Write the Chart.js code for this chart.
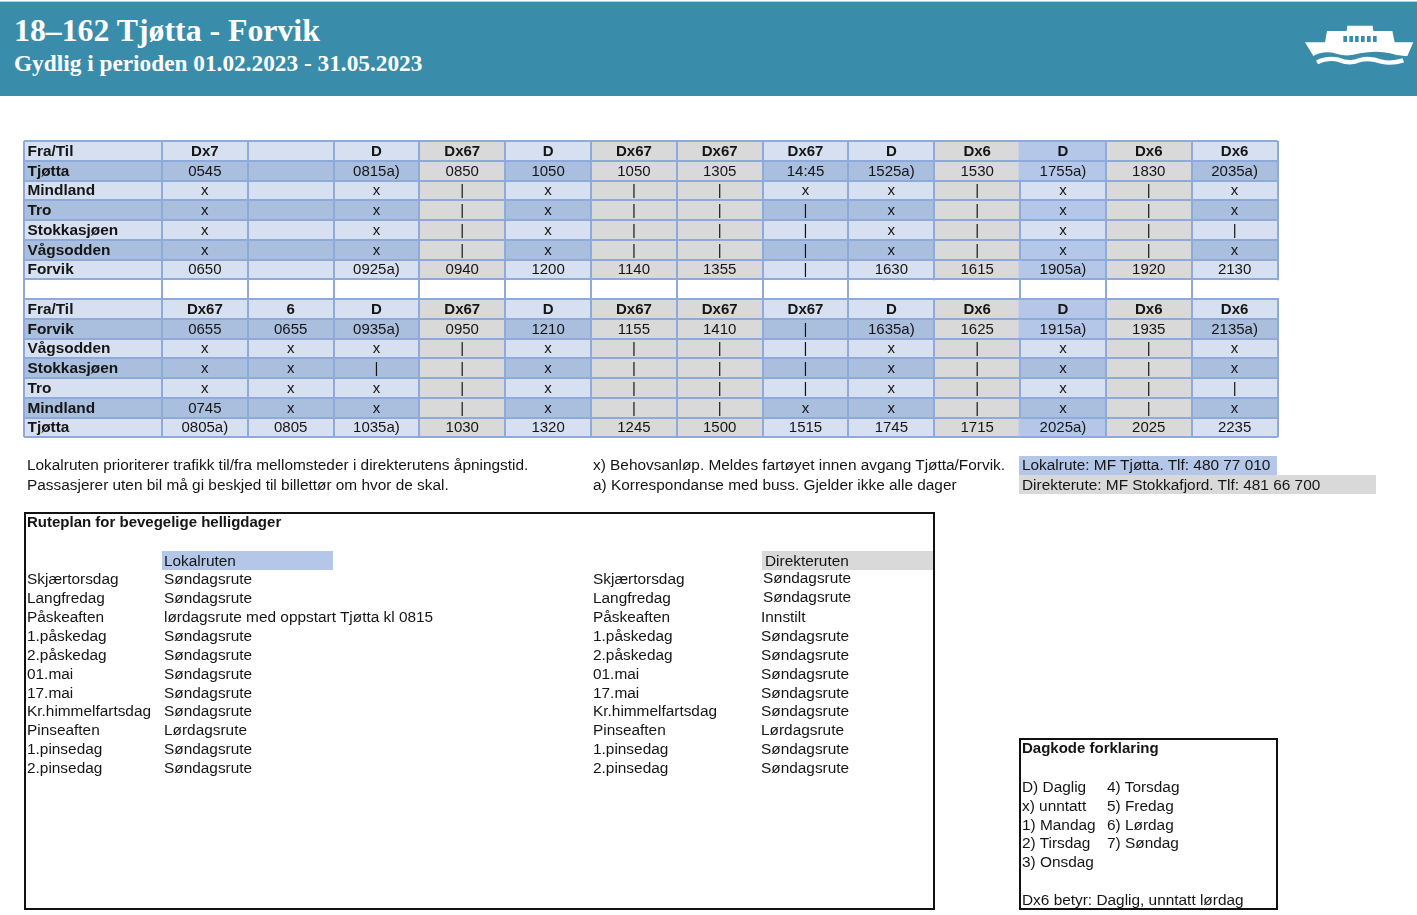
<!DOCTYPE html>
<html>
<head>
<meta charset="utf-8">
<title>18-162 Tjøtta - Forvik</title>
<script src="https://cdn.jsdelivr.net/npm/chart.js@4"></script>
<style>
  html, body { margin: 0; padding: 0; background: #fff; overflow: hidden; }
  #page { position: relative; width: 1417px; height: 915px; font-family: "Liberation Sans", Arial, sans-serif; font-size: 15.4px; color: #151515; overflow: hidden; }
  #timetable { position: absolute; left: 0; top: 0; }
  #band { position: absolute; left: 0; top: 1px; width: 1417px; height: 95px; background: #3a8cab; border-top: 1px solid #c8c8c8; box-sizing: border-box; }
  #title, #subtitle { position: absolute; left: 14px; color: #fff; font-family: "Liberation Serif", serif; font-weight: bold; white-space: nowrap; }
  #title { top: 11px; font-size: 31.8px; }
  #subtitle { top: 48px; font-size: 23.3px; }
  #ship { position: absolute; left: 1180px; top: 0; }
  .t { position: absolute; white-space: nowrap; line-height: 18px; }
  .b { font-weight: bold; font-size: 15px; }
  .bar { position: absolute; }
  .box { position: absolute; border: 2px solid #111; box-sizing: border-box; }
</style>
</head>
<body>
<div id="page">
  <canvas id="timetable" width="1417" height="915"></canvas>
  <div id="band">
    <div id="title">18–162 Tjøtta - Forvik</div>
    <div id="subtitle">Gydlig i perioden 01.02.2023 - 31.05.2023</div>
  </div>
  <svg id="ship" width="237" height="110" viewBox="0 0 711 330">
    <path fill="#fff" d="M375 127H435L441 93H500L502 77H578L580 93H637L644 127H700L682 168Q660 170 630 160Q590 150 540 160Q500 172 470 161Q430 150 400 168Z"/>
    <g fill="#3a8cab">
      <rect x="490" y="108" width="11" height="18"/><rect x="508" y="108" width="11" height="18"/>
      <rect x="525" y="108" width="11" height="18"/><rect x="543" y="108" width="11" height="18"/>
      <rect x="561" y="108" width="11" height="18"/><rect x="579" y="108" width="11" height="18"/>
    </g>
    <path fill="none" stroke="#fff" stroke-width="13" d="M411 187Q440 172 475 179Q510 194 540 180Q570 172 605 185Q635 192 670 181"/>
  </svg>
</div>
<script>
// timetable, outbound
const stopsOut = ['Fra/Til', 'Tjøtta', 'Mindland', 'Tro', 'Stokkasjøen', 'Vågsodden', 'Forvik'];
const daysOut = ['Dx7', '', 'D', 'Dx67', 'D', 'Dx67', 'Dx67', 'Dx67', 'D', 'Dx6', 'D', 'Dx6', 'Dx6'];
const tjottaOut = ['0545', '', '0815a)', '0850', '1050', '1050', '1305', '14:45', '1525a)', '1530', '1755a)', '1830', '2035a)'];
const mindlandOut = ['x', '', 'x', '|', 'x', '|', '|', 'x', 'x', '|', 'x', '|', 'x'];
const troOut = ['x', '', 'x', '|', 'x', '|', '|', '|', 'x', '|', 'x', '|', 'x'];
const stokkOut = ['x', '', 'x', '|', 'x', '|', '|', '|', 'x', '|', 'x', '|', '|'];
const vagsOut = ['x', '', 'x', '|', 'x', '|', '|', '|', 'x', '|', 'x', '|', 'x'];
const forvikOut = ['0650', '', '0925a)', '0940', '1200', '1140', '1355', '|', '1630', '1615', '1905a)', '1920', '2130'];

// timetable, return
const stopsBack = ['Fra/Til', 'Forvik', 'Vågsodden', 'Stokkasjøen', 'Tro', 'Mindland', 'Tjøtta'];
const daysBack = ['Dx67', '6', 'D', 'Dx67', 'D', 'Dx67', 'Dx67', 'Dx67', 'D', 'Dx6', 'D', 'Dx6', 'Dx6'];
const forvikBack = ['0655', '0655', '0935a)', '0950', '1210', '1155', '1410', '|', '1635a)', '1625', '1915a)', '1935', '2135a)'];
const vagsBack = ['x', 'x', 'x', '|', 'x', '|', '|', '|', 'x', '|', 'x', '|', 'x'];
const stokkBack = ['x', 'x', '|', '|', 'x', '|', '|', '|', 'x', '|', 'x', '|', 'x'];
const troBack = ['x', 'x', 'x', '|', 'x', '|', '|', '|', 'x', '|', 'x', '|', '|'];
const mindlandBack = ['0745', 'x', 'x', '|', 'x', '|', '|', 'x', 'x', '|', 'x', '|', 'x'];
const tjottaBack = ['0805a)', '0805', '1035a)', '1030', '1320', '1245', '1500', '1515', '1745', '1715', '2025a)', '2025', '2235'];

const greyColumns = [3, 5, 6, 9, 11];
const directColumn = 10;

// notes and side panels
const notesLeft = ['Lokalruten prioriterer trafikk til/fra mellomsteder i direkterutens åpningstid.', 'Passasjerer uten bil må gi beskjed til billettør om hvor de skal.'];
const notesRight = ['x) Behovsanløp. Meldes fartøyet innen avgang Tjøtta/Forvik.', 'a) Korrespondanse med buss. Gjelder ikke alle dager'];
const holidays = ['Skjærtorsdag', 'Langfredag', 'Påskeaften', '1.påskedag', '2.påskedag', '01.mai', '17.mai', 'Kr.himmelfartsdag', 'Pinseaften', '1.pinsedag', '2.pinsedag'];
const localRoutes = ['Søndagsrute', 'Søndagsrute', 'lørdagsrute med oppstart Tjøtta kl 0815', 'Søndagsrute', 'Søndagsrute', 'Søndagsrute', 'Søndagsrute', 'Søndagsrute', 'Lørdagsrute', 'Søndagsrute', 'Søndagsrute'];
const directRoutes = ['Søndagsrute', 'Søndagsrute', 'Innstilt', 'Søndagsrute', 'Søndagsrute', 'Søndagsrute', 'Søndagsrute', 'Søndagsrute', 'Lørdagsrute', 'Søndagsrute', 'Søndagsrute'];
const dayCodesLeft = ['D) Daglig', 'x) unntatt', '1) Mandag', '2) Tirsdag', '3) Onsdag'];
const dayCodesRight = ['4) Torsdag', '5) Fredag', '6) Lørdag', '7) Søndag'];

const LIGHT = '#d6e0f0', DARK = '#aabede', DIRECT = '#b5c7e8', GREY = '#d9d9d9', LINE = '#8eaadb';
const LABEL_W = 1.607;
const BLANK_ROW = 7;

const rowsOut = [daysOut, tjottaOut, mindlandOut, troOut, stokkOut, vagsOut, forvikOut];
const rowsBack = [daysBack, forvikBack, vagsBack, stokkBack, troBack, mindlandBack, tjottaBack];

const cellFill = (col, row, inner) => {
  if (row === BLANK_ROW) return '#fff';
  if (greyColumns.includes(col)) return GREY;
  if (col === directColumn) {
    if (inner === 0 || inner === 1 || inner === 6) return DIRECT;
    if (row < BLANK_ROW && inner % 2 === 1) return DIRECT;
  }
  return inner % 2 === 1 ? DARK : LIGHT;
};

// one point per cell, the plugin below paints it at the point's place
const cells = [];
const addTable = (stops, rows, firstRow) => {
  rows.forEach((vals, inner) => {
    const row = firstRow + inner;
    cells.push({ x: -LABEL_W / 2, y: row + 0.5, w: LABEL_W, text: stops[inner], label: true, bold: true, fill: inner % 2 === 1 ? DARK : LIGHT });
    vals.forEach((v, col) => {
      cells.push({ x: col + 0.5, y: row + 0.5, w: 1, text: v, bold: inner === 0, fill: cellFill(col, row, inner) });
    });
  });
};
addTable(stopsOut, rowsOut, 0);
for (let c = -1; c < 13; c++) {
  cells.push({ x: c < 0 ? -LABEL_W / 2 : c + 0.5, y: BLANK_ROW + 0.5, w: c < 0 ? LABEL_W : 1, text: '', fill: '#fff' });
}
addTable(stopsBack, rowsBack, BLANK_ROW + 1);

// places where the sheet has no vertical rule
const missingRules = [[9, 7, '#fff'], [13, 7, '#fff']];
[0, 1, 6, 8, 9, 14].forEach((r) => missingRules.push([10, r, DIRECT]));

const cellPainter = {
  id: 'cellPainter',
  beforeDatasetsDraw(chart) {
    const { ctx, scales: { x, y } } = chart;
    const pts = chart.getDatasetMeta(0).data;
    ctx.save();
    cells.forEach((c, i) => {
      const p = pts[i];
      const left = x.getPixelForValue(c.x - c.w / 2), right = x.getPixelForValue(c.x + c.w / 2);
      const top = y.getPixelForValue(c.y - 0.5), bottom = y.getPixelForValue(c.y + 0.5);
      ctx.fillStyle = c.fill;
      ctx.fillRect(left, top, right - left, bottom - top);
      if (!c.text) return;
      ctx.fillStyle = '#151515';
      ctx.font = (c.bold ? 'bold ' : '') + (c.label ? '15.4px' : '15px') + ' "Liberation Sans", Arial, sans-serif';
      ctx.textBaseline = 'middle';
      ctx.textAlign = c.label ? 'left' : 'center';
      ctx.fillText(c.text, c.label ? left + 3.5 : p.x, Math.round(p.y + 1.1));
    });
    ctx.restore();
  },
  afterDraw(chart) {
    const { ctx, scales: { x, y } } = chart;
    ctx.save();
    missingRules.forEach(([edge, row, color]) => {
      ctx.fillStyle = color;
      ctx.fillRect(x.getPixelForValue(edge) - 1.5, y.getPixelForValue(row) + 1, 3, y.getPixelForValue(row + 1) - y.getPixelForValue(row) - 2);
    });
    ctx.restore();
  }
};

new Chart(document.getElementById('timetable'), {
  type: 'scatter',
  data: { datasets: [{ data: cells, pointRadius: 0, pointHoverRadius: 0 }] },
  options: {
    responsive: false,
    animation: false,
    events: [],
    layout: { padding: { left: 24, top: 141, right: 139.5, bottom: 477.75 } },
    plugins: { legend: { display: false }, tooltip: { enabled: false } },
    scales: {
      x: {
        type: 'linear', min: -LABEL_W, max: 13,
        afterBuildTicks: (s) => { s.ticks = [-LABEL_W, 0, 1, 2, 3, 4, 5, 6, 7, 8, 9, 10, 11, 12, 13].map((value) => ({ value })); },
        ticks: { display: false },
        border: { display: false },
        grid: { color: LINE, lineWidth: 2, drawTicks: false, z: 1 }
      },
      y: {
        type: 'linear', min: 0, max: 15, reverse: true,
        ticks: { display: false, stepSize: 1 },
        border: { display: false },
        grid: { color: LINE, lineWidth: 2, drawTicks: false, z: 1 }
      }
    }
  },
  plugins: [cellPainter]
});

// text and panels below the timetable
const page = document.getElementById('page');
const put = (text, left, mid, cls) => {
  const el = document.createElement('div');
  el.className = 't' + (cls ? ' ' + cls : '');
  el.textContent = text;
  el.style.left = left + 'px';
  el.style.top = Math.round(mid - 9) + 'px';
  page.appendChild(el);
};
const panel = (cls, left, top, w, h, color) => {
  const el = document.createElement('div');
  el.className = cls;
  el.style.cssText = `left:${left}px;top:${top}px;width:${w}px;height:${h}px;` + (color ? `background:${color};` : '');
  page.appendChild(el);
};

notesLeft.forEach((s, i) => put(s, 27, 465 + i * 19.5));
notesRight.forEach((s, i) => put(s, 593, 465 + i * 19.5));
panel('bar', 1019, 456, 258, 19, DIRECT);
panel('bar', 1019, 475, 357, 19, GREY);
put('Lokalrute: MF Tjøtta. Tlf: 480 77 010', 1022, 465);
put('Direkterute: MF Stokkafjord. Tlf: 481 66 700', 1022, 484.5);

panel('box', 24, 512, 911, 398);
put('Ruteplan for bevegelige helligdager', 27, 522, 'b');
panel('bar', 162, 551, 171, 19, DIRECT);
panel('bar', 762, 551, 171, 19, GREY);
put('Lokalruten', 164, 560.5);
put('Direkteruten', 765, 560.5);
holidays.forEach((s, i) => {
  const mid = 579.3 + i * 18.87;
  put(s, 27, mid);
  put(localRoutes[i], 164, mid);
  put(s, 593, mid);
  put(directRoutes[i], i < 2 ? 763 : 761, mid - (i < 2 ? 1 : 0));
});

panel('box', 1019, 738, 259, 172);
put('Dagkode forklaring', 1022, 748, 'b');
dayCodesLeft.forEach((s, i) => put(s, 1022, 787 + i * 18.8));
dayCodesRight.forEach((s, i) => put(s, 1107, 787 + i * 18.8));
put('Dx6 betyr: Daglig, unntatt lørdag', 1022, 900);
</script>
</body>
</html>
